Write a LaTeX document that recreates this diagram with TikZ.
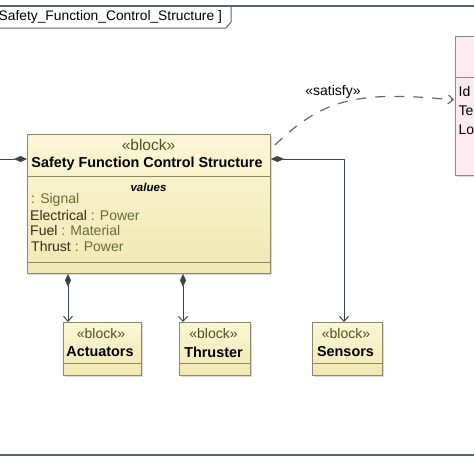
\documentclass[tikz,border=0pt]{standalone}
\usepackage{fontspec}
\setmainfont{Liberation Sans}
\usetikzlibrary{positioning, arrows.meta, calc, shadows}

\definecolor{blocktop}{HTML}{FBF6D6}
\definecolor{blockbot}{HTML}{F1E8B2}
\definecolor{blockedge}{HTML}{8C8966}
\definecolor{stereocol}{HTML}{4E5222}
\definecolor{typecol}{HTML}{6A6B35}
\definecolor{propcol}{HTML}{3A2A14}
\definecolor{reqfill}{HTML}{FDEAF0}
\definecolor{reqedge}{HTML}{8A8A8A}
\definecolor{linecol}{HTML}{3E4448}
\definecolor{framecol}{HTML}{5E6466}

\tikzset{
  blockbox/.style={draw=blockedge, line width=0.9pt, top color=blocktop, bottom color=blockbot,
    drop shadow={shadow xshift=2pt, shadow yshift=-2pt, opacity=0.3}, inner sep=0pt, anchor=north west},
  sepline/.style={draw=blockedge, line width=0.8pt},
  stereo/.style={inner sep=0pt, text=stereocol, font=\fontsize{14}{16}\selectfont},
  blockname/.style={inner sep=0pt, font=\fontsize{14.4}{16}\selectfont\bfseries},
  entry/.style={anchor=west, inner sep=0pt, font=\fontsize{14}{15}\selectfont},
  wire/.style={draw=linecol, line width=1pt},
  comp/.style={wire, {Diamond[length=13pt,width=6pt]}-{Straight Barb[length=5pt,width=9pt]}},
  compend/.style={wire, -{Diamond[length=13pt,width=6pt]}},
}

\begin{document}
\begin{tikzpicture}[x=1pt, y=-1pt]
  \useasboundingbox (0,0) rectangle (474,474);
  \clip (0,0) rectangle (474,474);

  % Diagram frame
  \draw[framecol, line width=1.3pt] (-10,6) rectangle (484,455);
  \draw[framecol, line width=1pt] (-10,28) -- (226,28) -- (231,22) -- (231,6);
  \node (title) [anchor=west, inner sep=0pt, font=\fontsize{13.8}{15}\selectfont] at (-1.5,17) {Safety\_Function\_Control\_Structure ]};

  % Main block
  \node (main) [blockbox, minimum width=243pt, minimum height=139pt] at (27,134) {};
  \node (mainst) [stereo, font=\fontsize{15.5}{17}\selectfont] at (148.5,145) {«block»};
  \node (mainnm) [blockname] at (147,164) {Safety Function Control Structure};
  \draw[sepline] (main.west |- 0,176) -- (main.east |- 0,176);
  \node (vals) [inner sep=0pt, font=\fontsize{11.5}{13}\selectfont\bfseries\itshape] at (148.5,187) {values};
  \node (v1) [entry, text=typecol] at (31,200) {: Signal};
  \node (v2) [entry] at (30,215) {{\color{propcol}Electrical} {\color{typecol}: Power}};
  \node (v3) [entry] at (30,230) {{\color{propcol}Fuel} {\color{typecol}: Material}};
  \node (v4) [entry] at (31,246) {{\color{propcol}Thrust} {\color{typecol}: Power}};
  \draw[sepline] (main.west |- 0,262) -- (main.east |- 0,262);

  % Part blocks
  \node (act) [blockbox, minimum width=78pt, minimum height=53pt] at (63,322) {};
  \node (actst) [stereo] at (101,333) {«block»};
  \node (actnm) [blockname] at (100,352) {Actuators};
  \draw[sepline] (act.west |- 0,363) -- (act.east |- 0,363);

  \node (thr) [blockbox, minimum width=71pt, minimum height=53pt] at (179,322) {};
  \node (thrst) [stereo] at (213.5,333) {«block»};
  \node (thrnm) [blockname] at (213.5,352) {Thruster};
  \draw[sepline] (thr.west |- 0,363) -- (thr.east |- 0,363);

  \node (sen) [blockbox, minimum width=70pt, minimum height=53pt] at (312,322) {};
  \node (senst) [stereo] at (346,333) {«block»};
  \node (sennm) [blockname] at (345.5,352) {Sensors};
  \draw[sepline] (sen.west |- 0,363) -- (sen.east |- 0,363);

  % Requirement (cut at the right edge)
  \node (req) [draw=reqedge, line width=0.9pt, fill=reqfill, anchor=north west, minimum width=40pt, minimum height=139pt,
    drop shadow={shadow xshift=2pt, shadow yshift=-2pt, opacity=0.3}] at (455,36) {};
  \draw[reqedge, line width=0.8pt] (req.west |- 0,77) -- (req.east |- 0,77);
  \node (r1) [entry] at (458.5,91) {Id};
  \node (r2) [entry] at (458.5,111) {Te};
  \node (r3) [entry] at (458.5,130) {Lo};

  % Connectors
  \coordinate (lend) at (-5,159);
  \coordinate (senbend) at (344,159);
  \draw[compend] (lend) -- (main.west |- lend);
  \draw[comp] (main.east |- senbend) -- (senbend) -- (sen.north -| senbend);
  \draw[comp] (main.south -| 68,0) -- (act.north -| 68,0);
  \draw[comp] (main.south -| 183,0) -- (thr.north -| 183,0);

  % Satisfy dependency
  \coordinate (satfrom) at ($(main.north east)+(4,11)$);
  \coordinate (satto) at ($(req.north west)+(-1,64)$);
  \draw[linecol!80, line width=1.2pt, dash pattern=on 10pt off 9pt, -{Straight Barb[length=5pt,width=9pt]}]
    (satfrom) .. controls (322,100) and (355,90) .. (satto);
  \node (satlbl) [inner sep=0pt, font=\fontsize{14}{15}\selectfont] at (333,92) {«satisfy»};
\end{tikzpicture}
\end{document}
